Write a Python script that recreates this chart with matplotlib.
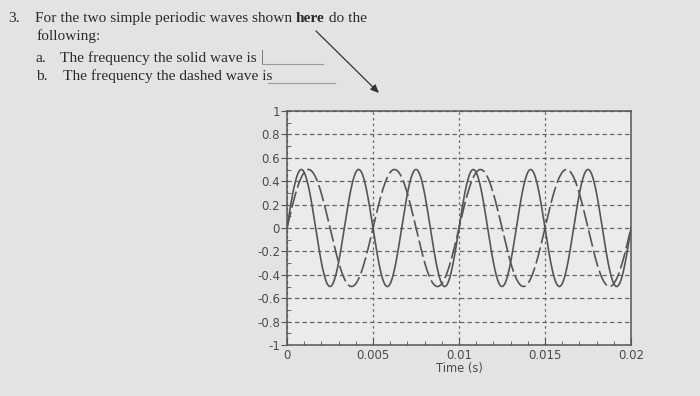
import numpy as np
import matplotlib
matplotlib.use("Agg")
import matplotlib.pyplot as plt
from matplotlib.ticker import MultipleLocator

# ---- data ----
t_start, t_end = 0.0, 0.02          # time span (s)
amplitudes = [0.5, 0.5]             # solid, dashed
frequencies = [300, 200]            # Hz: solid, dashed
xticks = [0, 0.005, 0.01, 0.015, 0.02]
xticklabels = ["0", "0.005", "0.01", "0.015", "0.02"]
yticks = [1, 0.8, 0.6, 0.4, 0.2, 0, -0.2, -0.4, -0.6, -0.8, -1]
yticklabels = ["1", "0.8", "0.6", "0.4", "0.2", "0", "-0.2", "-0.4", "-0.6", "-0.8", "-1"]

W, H = 700, 396
fig = plt.figure(figsize=(W / 100, H / 100), dpi=100)
fig.patch.set_facecolor("#e3e3e3")

def fx(px):
    return px / W

def fy(py):
    return 1 - py / H

# ---- question text ----
serif = "Liberation Serif"
fs = 11.1
tc = "#2a2a2a"
fig.text(fx(8), fy(22), "3.", family=serif, fontsize=fs, color=tc, va="baseline")
t1 = fig.text(fx(35), fy(22), "For the two simple periodic waves shown ", family=serif,
              fontsize=fs, color=tc, va="baseline")
t2 = fig.text(0, 0, "here", family=serif, fontsize=fs, color=tc, weight="bold",
              va="baseline")
fig.canvas.draw()
r = fig.canvas.get_renderer()
bb = t1.get_window_extent(r)
t2.set_position((bb.x1 / W, fy(22)))
fig.canvas.draw()
bb2 = t2.get_window_extent(r)
fig.text(bb2.x1 / W, fy(22), " do the", family=serif, fontsize=fs, color=tc, va="baseline")
fig.text(fx(36), fy(40), "following:", family=serif, fontsize=fs, color=tc, va="baseline")
fig.text(fx(36), fy(62), "a.", family=serif, fontsize=fs, color=tc, va="baseline")
fig.text(fx(60), fy(62), "The frequency the solid wave is", family=serif, fontsize=fs,
         color=tc, va="baseline")
fig.text(fx(36), fy(80), "b.", family=serif, fontsize=fs, color=tc, va="baseline")
fig.text(fx(63), fy(80), "The frequency the dashed wave is", family=serif, fontsize=fs,
         color=tc, va="baseline")

# answer blanks and cursor
fig.add_artist(plt.Line2D([fx(262), fx(323)], [fy(63.5), fy(63.5)], color="#9a9a9a", lw=0.8))
fig.add_artist(plt.Line2D([fx(262), fx(262)], [fy(50), fy(63)], color="#777777", lw=0.7))
fig.add_artist(plt.Line2D([fx(268), fx(335)], [fy(83), fy(83)], color="#9a9a9a", lw=0.8))

# arrow
fig.add_artist(matplotlib.patches.FancyArrowPatch(
    (fx(314), fy(29)), (fx(381), fy(95)), transform=fig.transFigure,
    arrowstyle="-|>,head_length=5,head_width=2.2", color="#333333", lw=0.9))

# ---- chart ----
ax = fig.add_axes([fx(287), fy(345), fx(631) - fx(287), fy(111) - fy(345)])
ax.set_facecolor("#ebebeb")

t = np.linspace(t_start, t_end, 2000)
styles = [dict(ls="-"), dict(ls=(0, (10, 2.5)))]
for a, f, st in zip(amplitudes, frequencies, styles):
    ax.plot(t, a * np.sin(2 * np.pi * f * t), color="#555555", lw=1.2, **st)

ax.set_xlim(t_start, t_end)
ax.set_ylim(-1, 1)
ax.set_xticks(xticks)
ax.set_xticklabels(xticklabels)
ax.set_yticks(yticks)
ax.set_yticklabels(yticklabels)
ax.xaxis.set_minor_locator(MultipleLocator(0.001))
ax.yaxis.set_minor_locator(MultipleLocator(0.1))

lc = "#555555"
ax.tick_params(axis="both", which="major", labelsize=8.5, labelcolor="#4a4a4a", color=lc)
ax.tick_params(axis="x", which="both", direction="in", top=False)
ax.tick_params(axis="x", which="major", length=5, pad=3)
ax.tick_params(axis="x", which="minor", length=3, color=lc)
ax.tick_params(axis="y", which="major", direction="out", length=4, pad=1, right=False)
ax.tick_params(axis="y", which="minor", direction="in", length=3, color=lc)

ax.yaxis.grid(True, which="major", ls=(0, (3.5, 2.5)), color="#666666", lw=0.9)
ax.xaxis.grid(True, which="major", ls=(0, (2, 2.5)), color="#666666", lw=0.9)
for s in ax.spines.values():
    s.set_color(lc)
    s.set_linewidth(1.1)

ax.set_xlabel("Time (s)", fontsize=8.3, color="#4a4a4a", labelpad=0)

fig.savefig("out.png", dpi=100, facecolor=fig.get_facecolor())
